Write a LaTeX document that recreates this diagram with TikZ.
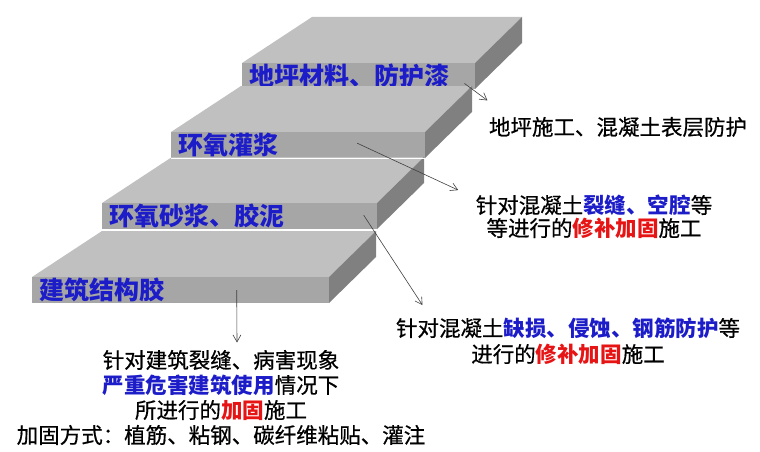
\documentclass[tikz,border=0pt]{standalone}
\usepackage{fontspec}
\setmainfont{Noto Sans CJK SC}[UprightFeatures={FakeBold=0.6}]
\usepackage{tikz}
\usetikzlibrary{arrows.meta, positioning}
\definecolor{stepblue}{RGB}{28, 28, 200}
\definecolor{stepred}{RGB}{230, 20, 20}
\definecolor{topgray}{RGB}{192, 192, 192}
\definecolor{frontgray}{RGB}{166, 166, 166}
\definecolor{sidegray}{RGB}{128, 128, 128}
\newcommand{\blu}[1]{\textcolor{stepblue}{\bfseries #1}}
\newcommand{\rd}[1]{\textcolor{stepred}{\bfseries #1}}

\begin{document}
\begin{tikzpicture}[x=1pt, y=-1pt, font=\fontsize{21.5}{25}\selectfont,
        arr/.style={->, >={Straight Barb[length=7pt, width=8pt]}, draw=black!75, line width=0.6pt}]
        \useasboundingbox (0,0) rectangle (760,452);
        % steps, back to front
        \foreach \i/\l/\r/\t/\txt in {4/242/475/63/{地坪材料、防护漆}, 3/171/425/132/{环氧灌浆}, 2/102/377/203/{环氧砂浆、胶泥}, 1/32/329/277/{建筑结构胶}} {
            \pgfmathsetmacro\w{\r-\l}
            \fill[topgray] (\l,\t) -- (\l+70,\t-46) -- (\r+47,\t-46) -- (\r,\t) -- cycle;
            \fill[sidegray] (\r,\t) -- (\r+47,\t-46) -- (\r+47,\t-20) -- (\r,\t+26) -- cycle;
            \node[fill=frontgray, anchor=north west, minimum width=\w pt, minimum height=26pt, inner sep=0pt]
                at (\l,\t) (f\i) {};
            \node[anchor=west, text=stepblue, font=\fontsize{25}{28}\selectfont\bfseries] at ([xshift=4pt]f\i.west) (l\i) {\txt};
        }
        \draw[white, line width=1pt] (f3.south west) -- (f3.south east);
        % what each step is for
        \node[align=center] (t1) at (618,127) {地坪施工、混凝土表层防护};
        \node[align=center, font=\fontsize{21.5}{23}\selectfont] (t2) at (594,216.5)
            {针对混凝土\blu{裂缝、空腔}等\\等进行的\rd{修补加固}施工};
        \node[align=center, font=\fontsize{21.5}{26}\selectfont] (t3) at (568,341)
            {针对混凝土\blu{缺损、侵蚀、钢筋防护}等\\进行的\rd{修补加固}施工};
        \node[align=center] (t4) at (221,397.5)
            {针对建筑裂缝、病害现象\\\blu{严重危害建筑使用}情况下\\所进行的\rd{加固}施工\\加固方式：植筋、粘钢、碳纤维粘贴、灌注};
        \draw[arr] ([xshift=-11pt, yshift=6pt]f4.south east) -- ([xshift=2pt, yshift=13pt]t1.north west);
        \draw[arr] ([xshift=59pt, yshift=2pt]f3.center) -- ([xshift=-14pt, yshift=1pt]t2.north west);
        \draw[arr] ([xshift=124pt, yshift=1pt]f2.center) -- ([xshift=30pt, yshift=9pt]t3.north west);
        \draw[arr] ([xshift=56pt]f1.center) -- ([xshift=16pt, yshift=4pt]t4.north);
    \end{tikzpicture}
\end{document}
